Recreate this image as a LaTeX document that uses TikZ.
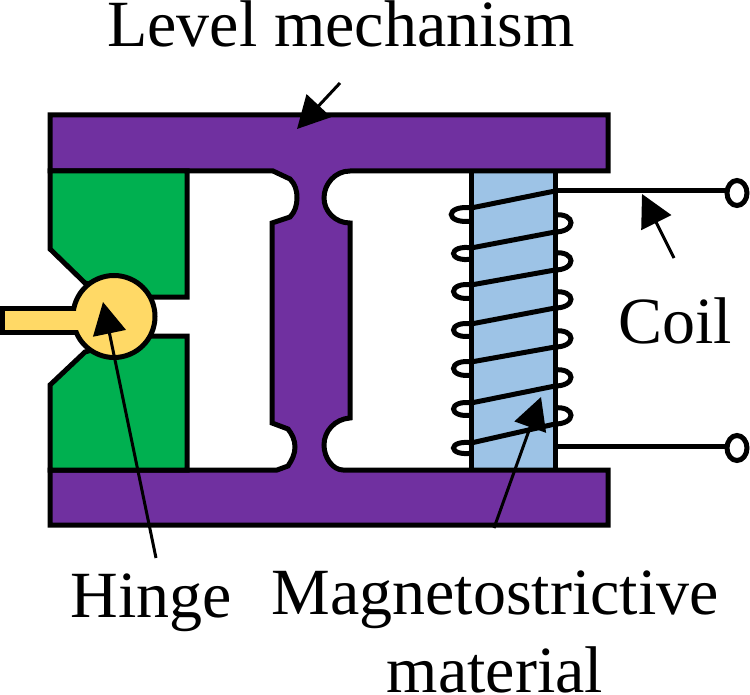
\documentclass[tikz,border=0pt]{standalone}
\usepackage{fontspec}
\setmainfont{Liberation Serif}
\usetikzlibrary{arrows.meta,shapes.geometric}
\definecolor{lvpurple}{HTML}{7030A0}
\definecolor{lvgreen}{HTML}{00B050}
\definecolor{lvyellow}{HTML}{FFD966}
\definecolor{lvblue}{HTML}{9DC3E6}
\tikzset{
  part/.style={draw=black,line width=5pt,line join=miter,miter limit=4},
  wire/.style={draw=black,line width=5pt},
  pointer/.style={draw=black,line width=3pt,-{Triangle[length=32pt,width=33pt]}},
  lbl/.style={inner sep=0pt,anchor=base,font=\fontsize{66}{70}\selectfont},
  term/.style={ellipse,draw=black,line width=5pt,fill=white,minimum width=20pt,minimum height=25pt,inner sep=0pt}
}
\begin{document}
\begin{tikzpicture}[x=1pt,y=-1pt]
\useasboundingbox (0,0) rectangle (750,695);
% coil loops behind the core
\draw[wire] (473,208) .. controls (444,204) and (444,225) .. (473,221);
\foreach \a/\b in {248/259,285/298,324/336,362/375,403/415,443/453}{
  \draw[wire] (473,\a) .. controls (447,\a-4) and (447,\b+4) .. (473,\b);
}
\foreach \a/\b in {215/232,253/270,292/308,331/347,370/386,408/424}{
  \draw[wire] (553,\a) .. controls (577,\a-3) and (577,\b+1) .. (553,\b);
}
% core
\draw[part,fill=lvblue] (471,171) rectangle (555,470);
% level mechanism
\draw[part,fill=lvpurple] (50,115) -- (608,115) -- (608,171) -- (350,171)
  .. controls (335,171) and (324,184) .. (324,198)
  .. controls (324,211) and (335,223) .. (350,223)
  -- (350,418)
  .. controls (335,419) and (324,431) .. (324,445)
  .. controls (324,458) and (333,470) .. (343,470)
  -- (608,470) -- (608,525) -- (50,525) -- (50,470) -- (277,470)
  -- (288,466) .. controls (292,460) and (295,454) .. (295,447)
  .. controls (295,440) and (292,434) .. (288,429)
  -- (272,423) -- (272,223) -- (290,217)
  .. controls (295,212) and (297,205) .. (297,198)
  .. controls (297,190) and (295,184) .. (290,179)
  -- (273,171) -- (50,171) -- cycle;
% hinge block
\draw[part,fill=lvgreen] (50,171) -- (187,171) -- (187,297) -- (140,297) -- (85,283) -- (50,249) -- cycle;
\draw[part,fill=lvgreen] (50,470) -- (187,470) -- (187,336) -- (140,336) -- (85,352) -- (50,385) -- cycle;
% hinge
\draw[part,fill=lvyellow] (2,308.5) rectangle (80,332.5);
\node[circle,draw=black,line width=5pt,fill=lvyellow,minimum size=82pt,inner sep=0pt] (hinge) at (114,316.5) {};
\fill[lvyellow] (60,311) rectangle (82,330);
% coil front windings and leads
\foreach \a/\b in {208/191,248/232,285/270,324/308,362/347,403/386,443/424}{
  \draw[wire] (471,\a) -- (555,\b);
}
\node[term] (t1) at (737,193) {};
\node[term] (t2) at (737,448) {};
\draw[wire] (555,191) -- (t1.west |- 0,191);
\draw[wire] (555,446) -- (t2.west |- 0,446);
% labels
\node[lbl] (lev) at (341,47) {Level mechanism};
\node[lbl] (coil) at (675,343) {Coil};
\node[lbl] (hng) at (151,617) {Hinge};
\node[lbl] (mag) at (495,614) {Magnetostrictive};
\node[lbl] (mat) at (495,692) {material};
% pointers
\coordinate (levS) at (340,83);
\coordinate (levT) at (297,129);
\coordinate (coilS) at (674,258);
\coordinate (coilT) at (642,194);
\coordinate (hngS) at (156,558);
\coordinate (hngT) at (103,302);
\coordinate (magS) at (494,528);
\coordinate (magT) at (541,397);
\draw[pointer] (levS) -- (levT);
\draw[pointer] (coilS) -- (coilT);
\draw[pointer] (hngS) -- (hngT);
\draw[pointer] (magS) -- (magT);
\end{tikzpicture}
\end{document}
